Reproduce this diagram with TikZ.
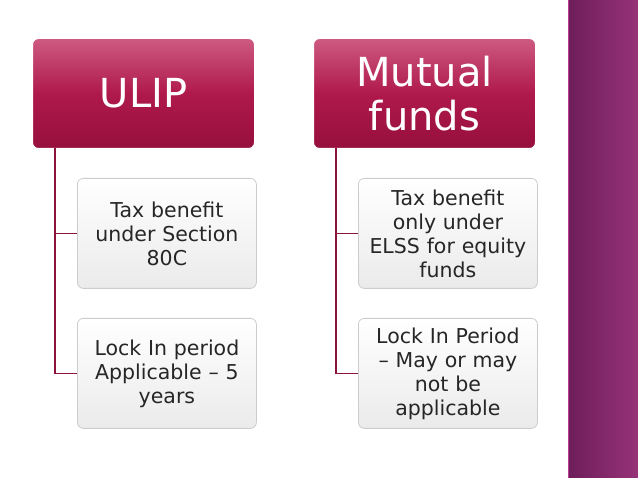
\documentclass[tikz,border=0pt]{standalone}
\usepackage{fontspec}
\setmainfont{DejaVu Sans}
\definecolor{conncol}{RGB}{140,20,60}
\definecolor{stripL}{RGB}{110,30,90}
\definecolor{stripR}{RGB}{150,50,120}
\definecolor{stripE}{RGB}{190,60,150}
\definecolor{headT}{RGB}{205,90,130}
\definecolor{headM}{RGB}{175,25,75}
\definecolor{headB}{RGB}{150,15,60}
\begin{document}
\begin{tikzpicture}[x=1pt,y=-1pt,
 head/.style={rounded corners=6pt,top color=headT,bottom color=headB,middle color=headM,draw=white,line width=1pt,text=white,font=\fontsize{40}{44}\selectfont,align=center,anchor=north west,minimum width=222pt,minimum height=110pt,inner sep=0pt},
 child/.style={rounded corners=6pt,top color=white,bottom color=black!8,draw=black!20,line width=0.8pt,text=black!85,font=\fontsize{20.5}{24}\selectfont,align=center,anchor=north west,minimum width=179pt,minimum height=110pt,text width=172pt,inner sep=0pt},
 conn/.style={draw=conncol,line width=1.5pt}]
\useasboundingbox (0,0) rectangle (638,478);
\fill[white] (0,0) rectangle (638,478);
\shade[left color=stripL,right color=stripR] (568,0) rectangle (638,478);
\draw[stripE,line width=1pt] (568.5,0)--(568.5,478);
\node[head] (u) at (32,38) {ULIP};
\node[head] (m) at (313,38) {Mutual\\funds};
\node[child] (u1) at (77,178) {Tax benefit\\under Section\\80C};
\node[child] (u2) at (77,318) {Lock In period\\Applicable – 5\\years};
\node[child] (m1) at (358,178) {Tax benefit\\only under\\ELSS for equity\\funds};
\node[child] (m2) at (358,318) {Lock In Period\\– May or may\\not be\\applicable};
\coordinate (ua) at (55,148); \coordinate (ma) at (336,148);
\draw[conn] (ua) |- (u1.west);
\draw[conn] (ua) |- (u2.west);
\draw[conn] (ma) |- (m1.west);
\draw[conn] (ma) |- (m2.west);
\end{tikzpicture}
\end{document}
